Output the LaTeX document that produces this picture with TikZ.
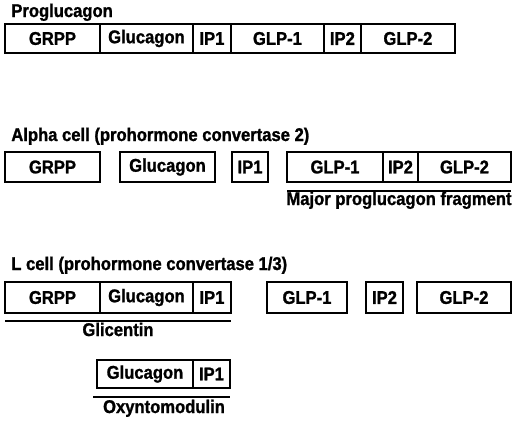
\documentclass[tikz,border=0pt]{standalone}
\usepackage{fontspec}
\setmainfont{Liberation Sans}[FakeStretch=0.9,BoldFeatures={FakeBold=1.2}]
\usetikzlibrary{positioning}

\begin{document}
\begin{tikzpicture}[x=0.02cm,y=-0.02cm,font=\fontsize{10.5}{12}\selectfont\bfseries,
  seg/.style={draw,line width=0.8pt,minimum height=0.58cm,inner sep=0pt,outer sep=0pt},
  single/.style={seg,line width=1.6pt},
  frame/.style={line width=1.6pt},
  rowtitle/.style={anchor=base west,inner sep=0pt},
  under/.style={line width=1.6pt},
  fraglabel/.style={anchor=base,inner sep=0pt}]
  \useasboundingbox (0,0) rectangle (520,420);

  % proglucagon
  \node[rowtitle] (tPro) at (11,17) {Proglucagon};
  \node[seg,minimum width=1.9cm,anchor=north west] (pGRPP) at (5,24) {GRPP};
  \node[seg,minimum width=1.86cm,right=0pt of pGRPP] (pGluc) {Glucagon};
  \node[seg,minimum width=0.76cm,right=0pt of pGluc] (pIP1) {IP1};
  \node[seg,minimum width=1.86cm,right=0pt of pIP1] (pGLP1) {GLP-1};
  \node[seg,minimum width=0.74cm,right=0pt of pGLP1] (pIP2) {IP2};
  \node[seg,minimum width=1.88cm,right=0pt of pIP2] (pGLP2) {GLP-2};
  \draw[frame] (pGRPP.north west) rectangle (pGLP2.south east);

  % alpha cell
  \node[rowtitle] (tAlpha) at (11,141) {Alpha cell (prohormone convertase 2)};
  \node[single,minimum width=1.9cm,minimum height=0.6cm,anchor=north west] (aGRPP) at (5,152) {GRPP};
  \node[single,minimum width=1.9cm,minimum height=0.6cm,anchor=north west] (aGluc) at (120,152) {Glucagon};
  \node[single,minimum width=0.72cm,minimum height=0.6cm,anchor=north west] (aIP1) at (232,152) {IP1};
  \node[seg,minimum width=1.92cm,minimum height=0.6cm,anchor=north west] (aGLP1) at (287,152) {GLP-1};
  \node[seg,minimum width=0.7cm,minimum height=0.6cm,right=0pt of aGLP1] (aIP2) {IP2};
  \node[seg,minimum width=1.86cm,minimum height=0.6cm,right=0pt of aIP2] (aGLP2) {GLP-2};
  \draw[frame] (aGLP1.north west) rectangle (aGLP2.south east);
  \draw[under] ([yshift=-0.18cm]aGLP1.south west) -- ([yshift=-0.18cm]aGLP2.south east);
  \node[fraglabel] (lMPF) at (399,205) {Major proglucagon fragment};

  % L cell
  \node[rowtitle] (tL) at (11,270) {L cell (prohormone convertase 1/3)};
  \node[seg,minimum width=1.9cm,minimum height=0.62cm,anchor=north west] (lGRPP) at (5,282) {GRPP};
  \node[seg,minimum width=1.86cm,minimum height=0.62cm,right=0pt of lGRPP] (lGluc) {Glucagon};
  \node[seg,minimum width=0.76cm,minimum height=0.62cm,right=0pt of lGluc] (lIP1) {IP1};
  \draw[frame] (lGRPP.north west) rectangle (lIP1.south east);
  \draw[under] ([yshift=-0.16cm]lGRPP.south west) -- ([yshift=-0.16cm]lIP1.south east);
  \node[fraglabel] (lGlic) at (118,336) {Glicentin};
  \node[single,minimum width=1.6cm,minimum height=0.62cm,anchor=north west] (lGLP1) at (267,282) {GLP-1};
  \node[single,minimum width=0.74cm,minimum height=0.62cm,anchor=north west] (lIP2) at (366,282) {IP2};
  \node[single,minimum width=1.88cm,minimum height=0.62cm,anchor=north west] (lGLP2) at (417,282) {GLP-2};

  % oxyntomodulin
  \node[seg,minimum width=1.92cm,minimum height=0.56cm,anchor=north west] (oGluc) at (97,360) {Glucagon};
  \node[seg,minimum width=0.74cm,minimum height=0.56cm,right=0pt of oGluc] (oIP1) {IP1};
  \draw[frame] (oGluc.north west) rectangle (oIP1.south east);
  \draw[under] ([xshift=-0.08cm,yshift=-0.18cm]oGluc.south west) -- ([yshift=-0.18cm]oIP1.south east);
  \node[fraglabel] (lOxy) at (164,413) {Oxyntomodulin};
\end{tikzpicture}
\end{document}
